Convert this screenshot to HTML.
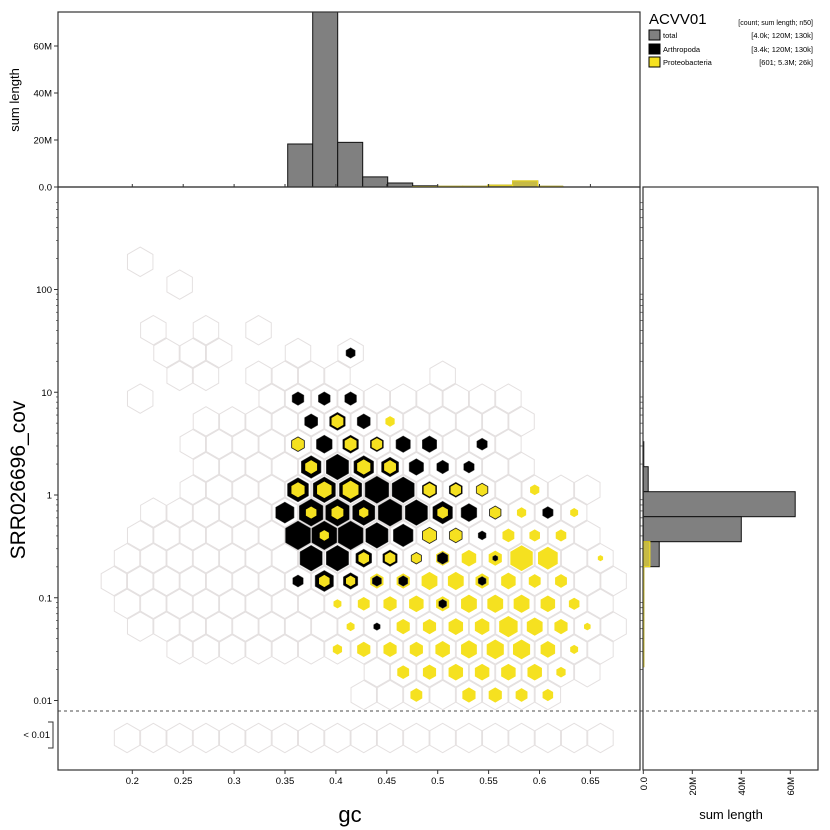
<!DOCTYPE html>
<html><head><meta charset="utf-8"><style>
html,body{margin:0;padding:0;background:#fff;}
svg{display:block;font-family:"Liberation Sans",Arial,sans-serif;}
</style></head><body>
<svg id="chart" width="830" height="830" viewBox="0 0 830 830" xmlns="http://www.w3.org/2000/svg">
<rect x="0" y="0" width="830" height="830" fill="#fff"/>
<g id="hexLayer"></g>
<g id="topHist"></g>
<g id="rightHist"></g>
<g id="axes"></g>
<line x1="58" y1="711" x2="818" y2="711" stroke="#888" stroke-width="1.5" stroke-dasharray="3,3"/>
<rect x="58" y="187" width="582" height="583" fill="none" stroke="#333" stroke-width="1.2"/>
<rect x="58" y="12" width="582" height="175" fill="none" stroke="#333" stroke-width="1.2"/>
<rect x="643" y="187" width="175" height="583" fill="none" stroke="#333" stroke-width="1.2"/>
<text x="350" y="822" font-size="22" text-anchor="middle">gc</text>
<text transform="translate(25,480) rotate(-90)" font-size="21" text-anchor="middle">SRR026696_cov</text>
<text transform="translate(19,100) rotate(-90)" font-size="13" text-anchor="middle">sum length</text>
<text x="731" y="819" font-size="13" text-anchor="middle">sum length</text>
<text x="50" y="738" font-size="9.5" text-anchor="end">&lt; 0.01</text>
<path d="M48,722 H53 V748 H48" fill="none" stroke="#333" stroke-width="1"/>
<g>
<text x="649" y="24" font-size="15">ACVV01</text>
<text x="813" y="25" font-size="7" text-anchor="end">[count; sum length; n50]</text>
<rect x="649" y="30" width="11" height="10" fill="#808080" stroke="#000"/>
<text x="663" y="38" font-size="7.5">total</text>
<text x="813" y="38" font-size="7.5" text-anchor="end">[4.0k; 120M; 130k]</text>
<rect x="649" y="44" width="11" height="10" fill="#000" stroke="#000"/>
<text x="663" y="52" font-size="7.5">Arthropoda</text>
<text x="813" y="52" font-size="7.5" text-anchor="end">[3.4k; 120M; 130k]</text>
<rect x="649" y="57" width="11" height="10" fill="#f5e120" stroke="#000"/>
<text x="663" y="65" font-size="7.5">Proteobacteria</text>
<text x="813" y="65" font-size="7.5" text-anchor="end">[601; 5.3M; 26k]</text>
</g>
</svg>
<script>
// ---- data ----
const xTicks = [0.2,0.25,0.3,0.35,0.4,0.45,0.5,0.55,0.6,0.65];
const yTicks = [0.01,0.1,1,10,100];
const yTickLabels = ["0.01","0.1","1","10","100"];
const topTicks = [0,20,40,60];
const topTickLabels = ["0.0","20M","40M","60M"];
const rightTicks = [0,20,40,60];
const rightTickLabels = ["0.0","20M","40M","60M"];
// hex bins: rows of outlines [row, colMin, colMax]
const outlineRows = [[-4,-6,-6],[-3,-5,-5],[-1,-6,-6],[-1,-4,-4],[-1,-2,-2],[0,-5,-3],[0,0,0],[0,2,2],
 [1,-5,-4],[1,-2,1],[1,5,5],[2,-6,-6],[2,-1,8],[3,-4,8],[4,-4,8],[5,-4,8],[6,-4,11],[7,-6,10],
 [8,-6,11],[9,-7,11],[10,-7,12],[11,-7,11],[12,-6,12],[13,-5,11],[14,3,11],[15,2,9]];
const lowRowCols = [-7,11];
// [row, col, relative size]
const arthBins = [[0,2,.35],[2,0,.45],[2,1,.45],[2,2,.45],[3,0,.5],[3,1,.6],[3,2,.5],
 [4,0,.5],[4,1,.6],[4,2,.6],[4,3,.5],[4,4,.55],[4,5,.55],[4,7,.4],
 [5,0,.75],[5,1,.85],[5,2,.75],[5,3,.65],[5,4,.55],[5,5,.45],[5,6,.4],
 [6,0,.8],[6,1,.85],[6,2,.85],[6,3,.9],[6,4,.85],[6,5,.55],[6,6,.5],[6,7,.45],
 [7,-1,.7],[7,0,.9],[7,1,.9],[7,2,.85],[7,3,.9],[7,4,.85],[7,5,.75],[7,6,.6],[7,7,.45],[7,9,.4],
 [8,0,.95],[8,1,.95],[8,2,.95],[8,3,.85],[8,4,.75],[8,5,.55],[8,6,.5],[8,7,.3],
 [9,0,.85],[9,1,.85],[9,2,.6],[9,3,.55],[9,4,.4],[9,5,.4],[9,7,.2],
 [10,0,.4],[10,1,.7],[10,2,.55],[10,3,.35],[10,4,.35],[10,7,.3],[11,5,.3],[12,3,.25]];
const protBins = [[3,1,.45],[3,3,.35],[4,0,.45],[4,2,.45],[4,3,.4],[5,0,.45],[5,2,.5],[5,3,.45],
 [6,0,.5],[6,1,.55],[6,2,.6],[6,5,.45],[6,6,.4],[6,7,.4],[6,9,.35],
 [7,0,.4],[7,1,.45],[7,2,.35],[7,5,.4],[7,7,.4],[7,8,.35],[7,10,.3],
 [8,1,.35],[8,5,.5],[8,6,.45],[8,8,.45],[8,9,.4],[8,10,.4],
 [9,2,.4],[9,3,.4],[9,4,.35],[9,5,.5],[9,6,.55],[9,7,.5],[9,8,.85],[9,9,.75],[9,11,.2],
 [10,1,.4],[10,2,.35],[10,3,.5],[10,4,.5],[10,5,.6],[10,6,.6],[10,7,.5],[10,8,.55],[10,9,.45],[10,10,.45],
 [11,1,.3],[11,2,.45],[11,3,.5],[11,4,.55],[11,5,.5],[11,6,.6],[11,7,.6],[11,8,.6],[11,9,.55],[11,10,.4],
 [12,2,.3],[12,4,.5],[12,5,.5],[12,6,.55],[12,7,.55],[12,8,.7],[12,9,.6],[12,10,.5],[12,11,.25],
 [13,1,.35],[13,2,.5],[13,3,.5],[13,4,.5],[13,5,.55],[13,6,.6],[13,7,.65],[13,8,.65],[13,9,.55],[13,10,.3],
 [14,4,.45],[14,5,.5],[14,6,.55],[14,7,.55],[14,8,.55],[14,9,.55],[14,10,.35],
 [15,4,.45],[15,6,.5],[15,7,.5],[15,8,.45],[15,9,.4]];
// gc histogram (sum length, M)
const gcHistStart = 0.35265;
const gcHistWidth = 0.024558;
const gcHistTotal = [18.3,90,19,4.3,1.7,0.5,0.3,0.3,0.8,2.6,0.3];
const gcHistProt = [0,0,0,0,0,0.2,0.3,0.3,0.8,2.6,0.3];
// coverage histogram (log10 cov bins, sum length M)
const covHistStartLog = 0.5187;
const covHistWidthLog = 0.2433;
const covHistTotal = [0.2,2,62,40,6.5,0.2,0.2,0.2,0.2];
const covHistProt = [0,0,0,0,2.7,0.2,0.2,0.2,0.2];
// hex grid in data space
const gcOrigin = 0.36277, gcBin = 0.025835;
const logCovOrigin = 1.382, logCovBin = 0.2219;

// ---- scales ----
const NS = "http://www.w3.org/2000/svg";
function x(g){ return 132.3 + (g-0.2)*1018; }
function y(v){ return 495 - 102.75*Math.log10(v); }
function yLog(l){ return 495 - 102.75*l; }
function yTop(s){ return Math.max(12, 187 - s*2.35); }
function xRight(s){ return 643.3 + s*2.45; }
const R = 15.2;
function binGc(k,c){ return gcOrigin + gcBin*(c + (Math.abs(k)%2===1?0.5:0)); }
function binLog(k){ return logCovOrigin - k*logCovBin; }
function hexPts(cx,cy,r){
  let p=[];
  for(let i=0;i<6;i++){ const a=Math.PI/180*(60*i-90); p.push((cx+r*Math.cos(a)).toFixed(2)+","+(cy+r*Math.sin(a)).toFixed(2)); }
  return p.join(" ");
}
function mk(tag, attrs, parent){
  const el=document.createElementNS(NS,tag);
  for(const k in attrs) el.setAttribute(k, attrs[k]);
  parent.appendChild(el); return el;
}
const hexLayer=document.getElementById('hexLayer');
// outlines
outlineRows.forEach(([k,c0,c1])=>{
  for(let c=c0;c<=c1;c++){
    const el=mk('polygon',{points:hexPts(x(binGc(k,c)),yLog(binLog(k)),R-0.5),fill:'none',stroke:'#e4e0e0','stroke-width':1},hexLayer);
    
    
  }
});
for(let c=lowRowCols[0];c<=lowRowCols[1];c++){
  const el=mk('polygon',{points:hexPts(x(binGc(1,c)),738,R-0.5),fill:'none',stroke:'#e4e0e0','stroke-width':1},hexLayer);
  
  
}
// fills
const bins={};
arthBins.forEach(([k,c,s])=>{ const key=k+"_"+c; bins[key]=bins[key]||{k,c,a:0,p:0}; bins[key].a=s; });
protBins.forEach(([k,c,s])=>{ const key=k+"_"+c; bins[key]=bins[key]||{k,c,a:0,p:0}; bins[key].p=s; });
Object.values(bins).forEach(b=>{
  const cx=x(binGc(b.k,b.c)), cy=yLog(binLog(b.k));
  const list=[{s:b.a,f:'#000',n:'hex-arthropoda'},{s:b.p,f:'#f5e120',n:'hex-proteobacteria'}].filter(d=>d.s>0).sort((p,q)=>q.s-p.s);
  list.forEach(d=>{
    const el=mk('polygon',{points:hexPts(cx,cy,R*d.s),fill:d.f,stroke:d.f==='#000'?'#555':'none','stroke-width':0.5},hexLayer);
    
    
  });
});
// top histogram
const topG=document.getElementById('topHist');
function topBars(vals,fill,stroke,op,name){
  vals.forEach((v,i)=>{
    if(v<=0) return;
    const g0=gcHistStart+i*gcHistWidth, x0=x(g0), x1=x(g0+gcHistWidth), yy=yTop(v);
    const el=mk('rect',{x:x0,y:yy,width:x1-x0,height:187-yy,fill:fill,stroke:stroke,'stroke-width':1,'fill-opacity':op},topG);
    
    
  });
}
topBars(gcHistTotal,'#808080','#111',1,'gc-bar-total');
topBars(gcHistProt,'#f5e120','#f5e120',0.6,'gc-bar-proteobacteria');
// right histogram
const rG=document.getElementById('rightHist');
function rightBars(vals,fill,stroke,op,name){
  vals.forEach((v,i)=>{
    if(v<=0) return;
    const l0=covHistStartLog-i*covHistWidthLog, y0=yLog(l0), y1=yLog(l0-covHistWidthLog);
    const el=mk('rect',{x:643.3,y:y0,width:xRight(v)-643.3,height:y1-y0,fill:fill,stroke:stroke,'stroke-width':1,'fill-opacity':op},rG);
    
    
  });
}
rightBars(covHistTotal,'#808080','#111',1,'cov-bar-total');
rightBars(covHistProt,'#f5e120','#f5e120',0.6,'cov-bar-proteobacteria');
// axes
const ax=document.getElementById('axes');
xTicks.forEach(t=>{
  const px=x(t);
  const tk=mk('line',{x1:px,y1:770,x2:px,y2:774,stroke:'#333'},ax);
  
  
  const tx=mk('text',{x:px,y:784,'font-size':9.5,'text-anchor':'middle'},ax);
  tx.textContent=String(t);
  
  
  const tt=mk('line',{x1:px,y1:187,x2:px,y2:184,stroke:'#333'},ax);
  
  
});
yTicks.forEach((t,i)=>{
  const py=y(t);
  const tk=mk('line',{x1:54,y1:py,x2:58,y2:py,stroke:'#333'},ax);
  
  
  const tx=mk('text',{x:52,y:py+3.5,'font-size':9.5,'text-anchor':'end'},ax);
  tx.textContent=yTickLabels[i];
  
  
  for(let m=2;m<10;m++){
    const v=t*m; if(v>700) break;
    const pm=y(v); if(pm<187) break;
    const mt=mk('line',{x1:56,y1:pm,x2:58,y2:pm,stroke:'#555','stroke-width':0.8},ax);
    
    
    const rt=mk('line',{x1:640,y1:pm,x2:643,y2:pm,stroke:'#555','stroke-width':0.8},ax);
    
    
  }
});
topTicks.forEach((t,i)=>{
  const py=yTop(t);
  const tk=mk('line',{x1:54,y1:py,x2:58,y2:py,stroke:'#333'},ax);
  
  
  const tx=mk('text',{x:52,y:py+3.5,'font-size':9.5,'text-anchor':'end'},ax);
  tx.textContent=topTickLabels[i];
  
  
});
rightTicks.forEach((t,i)=>{
  const px=xRight(t);
  const tk=mk('line',{x1:px,y1:770,x2:px,y2:774,stroke:'#333'},ax);
  
  
  const tx=mk('text',{transform:'translate('+(px+3.5)+',777) rotate(-90)','font-size':9.5,'text-anchor':'end'},ax);
  tx.textContent=rightTickLabels[i];
  
  
});
</script>
</body></html>
